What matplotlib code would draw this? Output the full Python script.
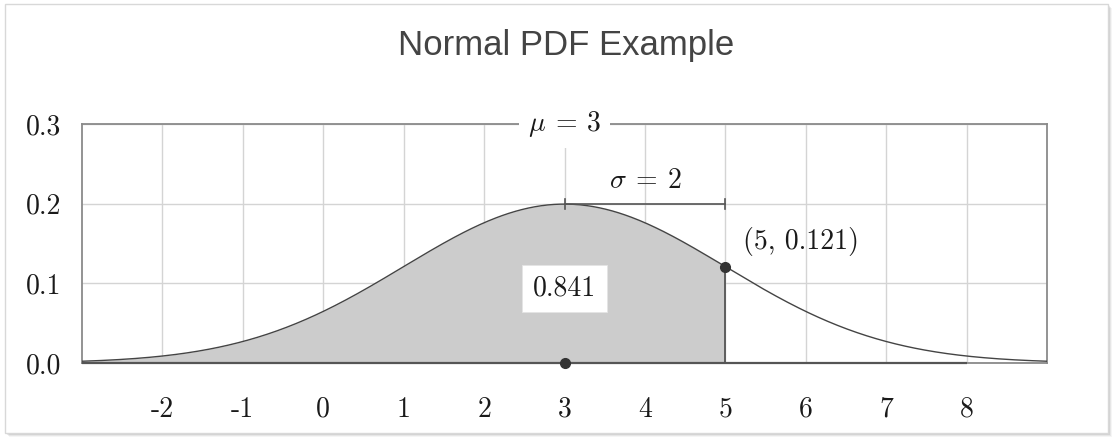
import numpy as np
import matplotlib
matplotlib.use("Agg")
import matplotlib.pyplot as plt
from matplotlib.patches import Rectangle

plt.rcParams['mathtext.fontset'] = 'cm'

# ---- data ----
title = "Normal PDF Example"
mu = 3
sigma = 2
x_min, x_max = -3, 9
shade_to = 5
area_label = "0.841"
point_x = 5
point_y = 0.121
point_label = "(5, 0.121)"
x_ticks = [-2, -1, 0, 1, 2, 3, 4, 5, 6, 7, 8]
x_tick_labels = ["-2", "-1", "0", "1", "2", "3", "4", "5", "6", "7", "8"]
y_ticks = [0.0, 0.1, 0.2, 0.3]
y_tick_labels = ["0.0", "0.1", "0.2", "0.3"]
axis_line_end = 8

def pdf(x):
    return np.exp(-0.5 * ((x - mu) / sigma) ** 2) / (sigma * np.sqrt(2 * np.pi))

W, H = 1117, 443
fig = plt.figure(figsize=(W / 100, H / 100), dpi=100)
fig.patch.set_facecolor('white')

# card with shadow
cx0, cy0, cx1, cy1 = 5, 4, 1108, 433
for i, a in enumerate([0.10, 0.08, 0.06, 0.04]):
    off = 1 + i
    fig.patches.append(Rectangle(((cx0 + off) / W, (H - cy1 - off) / H),
                                 (cx1 - cx0) / W, (cy1 - cy0) / H,
                                 transform=fig.transFigure, facecolor='black',
                                 alpha=a, edgecolor='none', zorder=0))
fig.patches.append(Rectangle((cx0 / W, (H - cy1) / H), (cx1 - cx0) / W, (cy1 - cy0) / H,
                             transform=fig.transFigure, facecolor='white',
                             edgecolor='#d8d8d8', linewidth=1.0, zorder=1))

ax = fig.add_axes([82 / W, (H - 363) / H, (1047 - 82) / W, (363 - 124) / H])
ax.set_facecolor('none')
ax.set_zorder(2)

xs = np.linspace(x_min, x_max, 600)
ys = pdf(xs)
xf = np.linspace(x_min, shade_to, 400)

FS = 20

ax.set_xlim(x_min, x_max)
ax.set_ylim(0, 0.3)
ax.set_xticks(x_ticks)
ax.set_xticklabels(x_tick_labels)
ax.set_yticks(y_ticks)
ax.set_yticklabels(y_tick_labels)
ax.tick_params(length=0, labelsize=FS, labelcolor='#1a1a1a')
ax.tick_params(axis='x', pad=24)
ax.tick_params(axis='y', pad=15)
for lab in ax.get_xticklabels() + ax.get_yticklabels():
    lab.set_fontfamily('cmr10')

ax.grid(True, color='#d4d4d4', linewidth=1.0, zorder=0)
ax.set_axisbelow(True)
for s in ax.spines.values():
    s.set_color('#8a8a8a')
    s.set_linewidth(1.3)

ax.fill_between(xf, 0, pdf(xf), color='#cccccc', linewidth=0, zorder=1)
ax.plot(xs, ys, color='#444444', linewidth=1.0, zorder=3)
ax.plot([shade_to, shade_to], [0, pdf(shade_to)], color='#555555', linewidth=1.3, zorder=3)
ax.plot([x_min, axis_line_end], [0, 0], color='#555555', linewidth=1.6, zorder=3,
        clip_on=False, solid_capstyle='butt')

# sigma bracket
ax.plot([mu, mu + sigma], [pdf(mu), pdf(mu)], color='#555555', linewidth=1.2, zorder=4)
for xb in [mu, mu + sigma]:
    ax.plot([xb, xb], [pdf(mu) - 0.006, pdf(mu) + 0.006], color='#555555',
            linewidth=1.2, zorder=4)
ax.text(mu + sigma / 2, 0.2295, r'$\sigma\:=\:2$', ha='center', va='center',
        fontsize=FS, color='#1a1a1a', zorder=5)

# mu label on top spine
ax.text(mu, 0.2995, r'$\mu\:=\:3$', ha='center', va='center', fontsize=FS,
        color='#1a1a1a', zorder=5, clip_on=False,
        bbox=dict(facecolor='white', edgecolor='none', pad=6))

# points
ax.plot([point_x], [point_y], 'o', color='#333333', markersize=7, zorder=6, clip_on=False)
ax.plot([mu], [0], 'o', color='#333333', markersize=7, zorder=6, clip_on=False)

ax.text(5.22, 0.152, point_label, ha='left', va='center', fontsize=FS,
        family='cmr10', color='#1a1a1a', zorder=5)
ax.text(mu, 0.0935, area_label, ha='center', va='center', fontsize=FS,
        family='cmr10', color='#1a1a1a', zorder=5,
        bbox=dict(facecolor='white', edgecolor='#e4e4e4', linewidth=0.6,
                  boxstyle='square,pad=0.38'))

fig.text(566 / W, (H - 45) / H, title, ha='center', va='center', fontsize=25,
         family='Liberation Sans', color='#444444')

fig.savefig('out.png', dpi=100)
